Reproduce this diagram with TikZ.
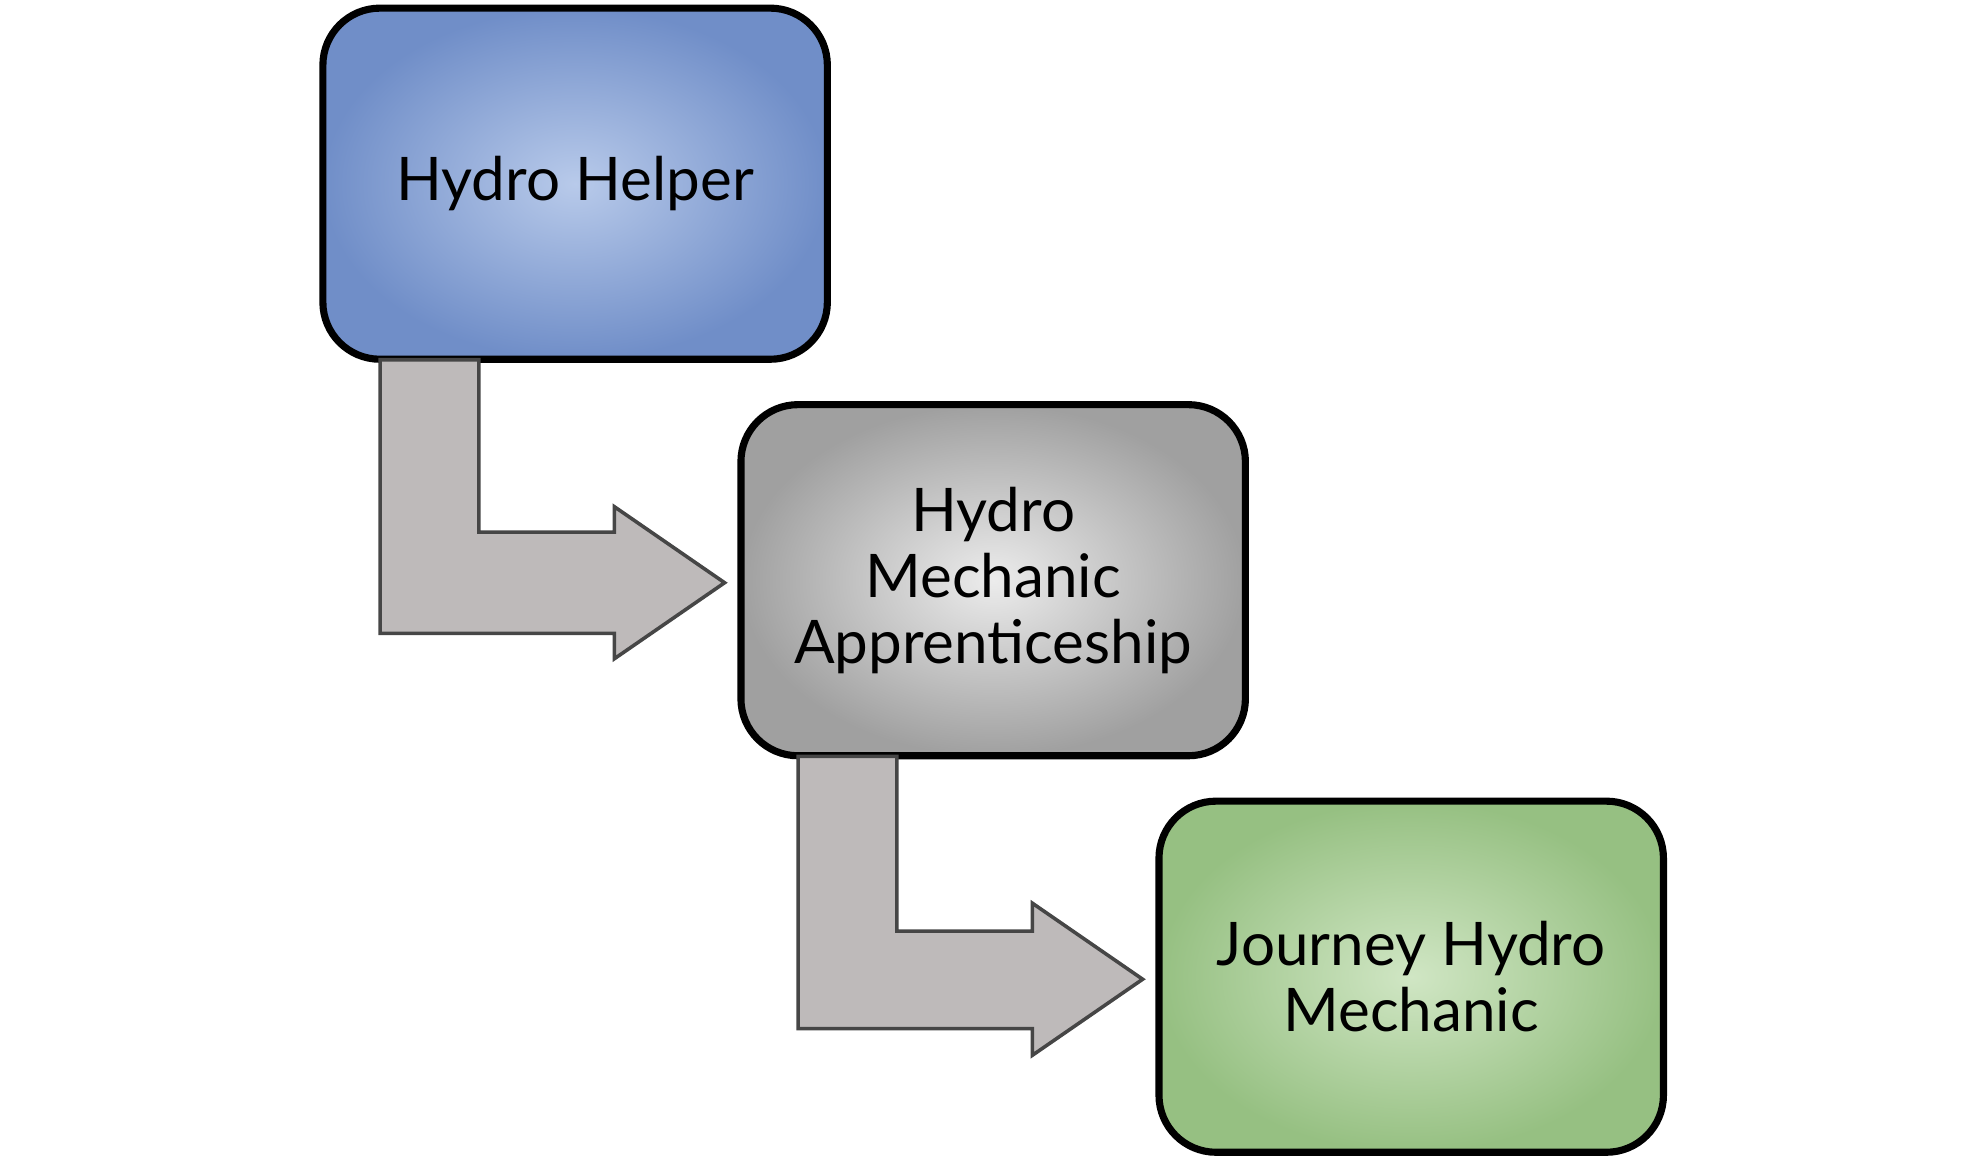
\documentclass[tikz,border=0pt]{standalone}
\usepackage{fontspec}
\setmainfont{Lato}
\usetikzlibrary{positioning}
\definecolor{blueout}{RGB}{112,142,200}
\definecolor{bluein}{RGB}{184,202,234}
\definecolor{grayout}{RGB}{160,160,160}
\definecolor{grayin}{RGB}{236,236,236}
\definecolor{greenout}{RGB}{150,192,130}
\definecolor{greenin}{RGB}{208,230,196}
\definecolor{arrowfill}{RGB}{190,186,186}
\begin{document}
\begin{tikzpicture}[x=0.01cm,y=-0.01cm]
\tikzstyle{stage} = [draw=black, line width=1.6pt, rounded corners=0.45cm,
  minimum width=3.98cm, minimum height=2.77cm, align=center,
  font=\fontsize{13.5}{14.8}\selectfont, shading=radial]
\tikzstyle{bentarrow} = [fill=arrowfill, draw=gray!55!black, line width=0.8pt]

\useasboundingbox (0,0) rectangle (1563,912);

\node[stage, inner color=bluein, outer color=blueout] (helper) at (454,145) {Hydro Helper};
\node[stage, inner color=grayin, outer color=grayout] (apprentice) at (784,458) {Hydro\\Mechanic\\Apprenticeship};
\node[stage, inner color=greenin, outer color=greenout] (journey) at (1114,771) {Journey Hydro\\Mechanic};

% bent arrows
\draw[bentarrow] (300,284) -- (378,284) -- (378,420) -- (485,420) -- (485,400)
  -- (572,460) -- (485,520) -- (485,500) -- (300,500) -- cycle;
\draw[bentarrow] (630,597) -- (708,597) -- (708,735) -- (815,735) -- (815,713)
  -- (902,773) -- (815,833) -- (815,812) -- (630,812) -- cycle;
\end{tikzpicture}
\end{document}
